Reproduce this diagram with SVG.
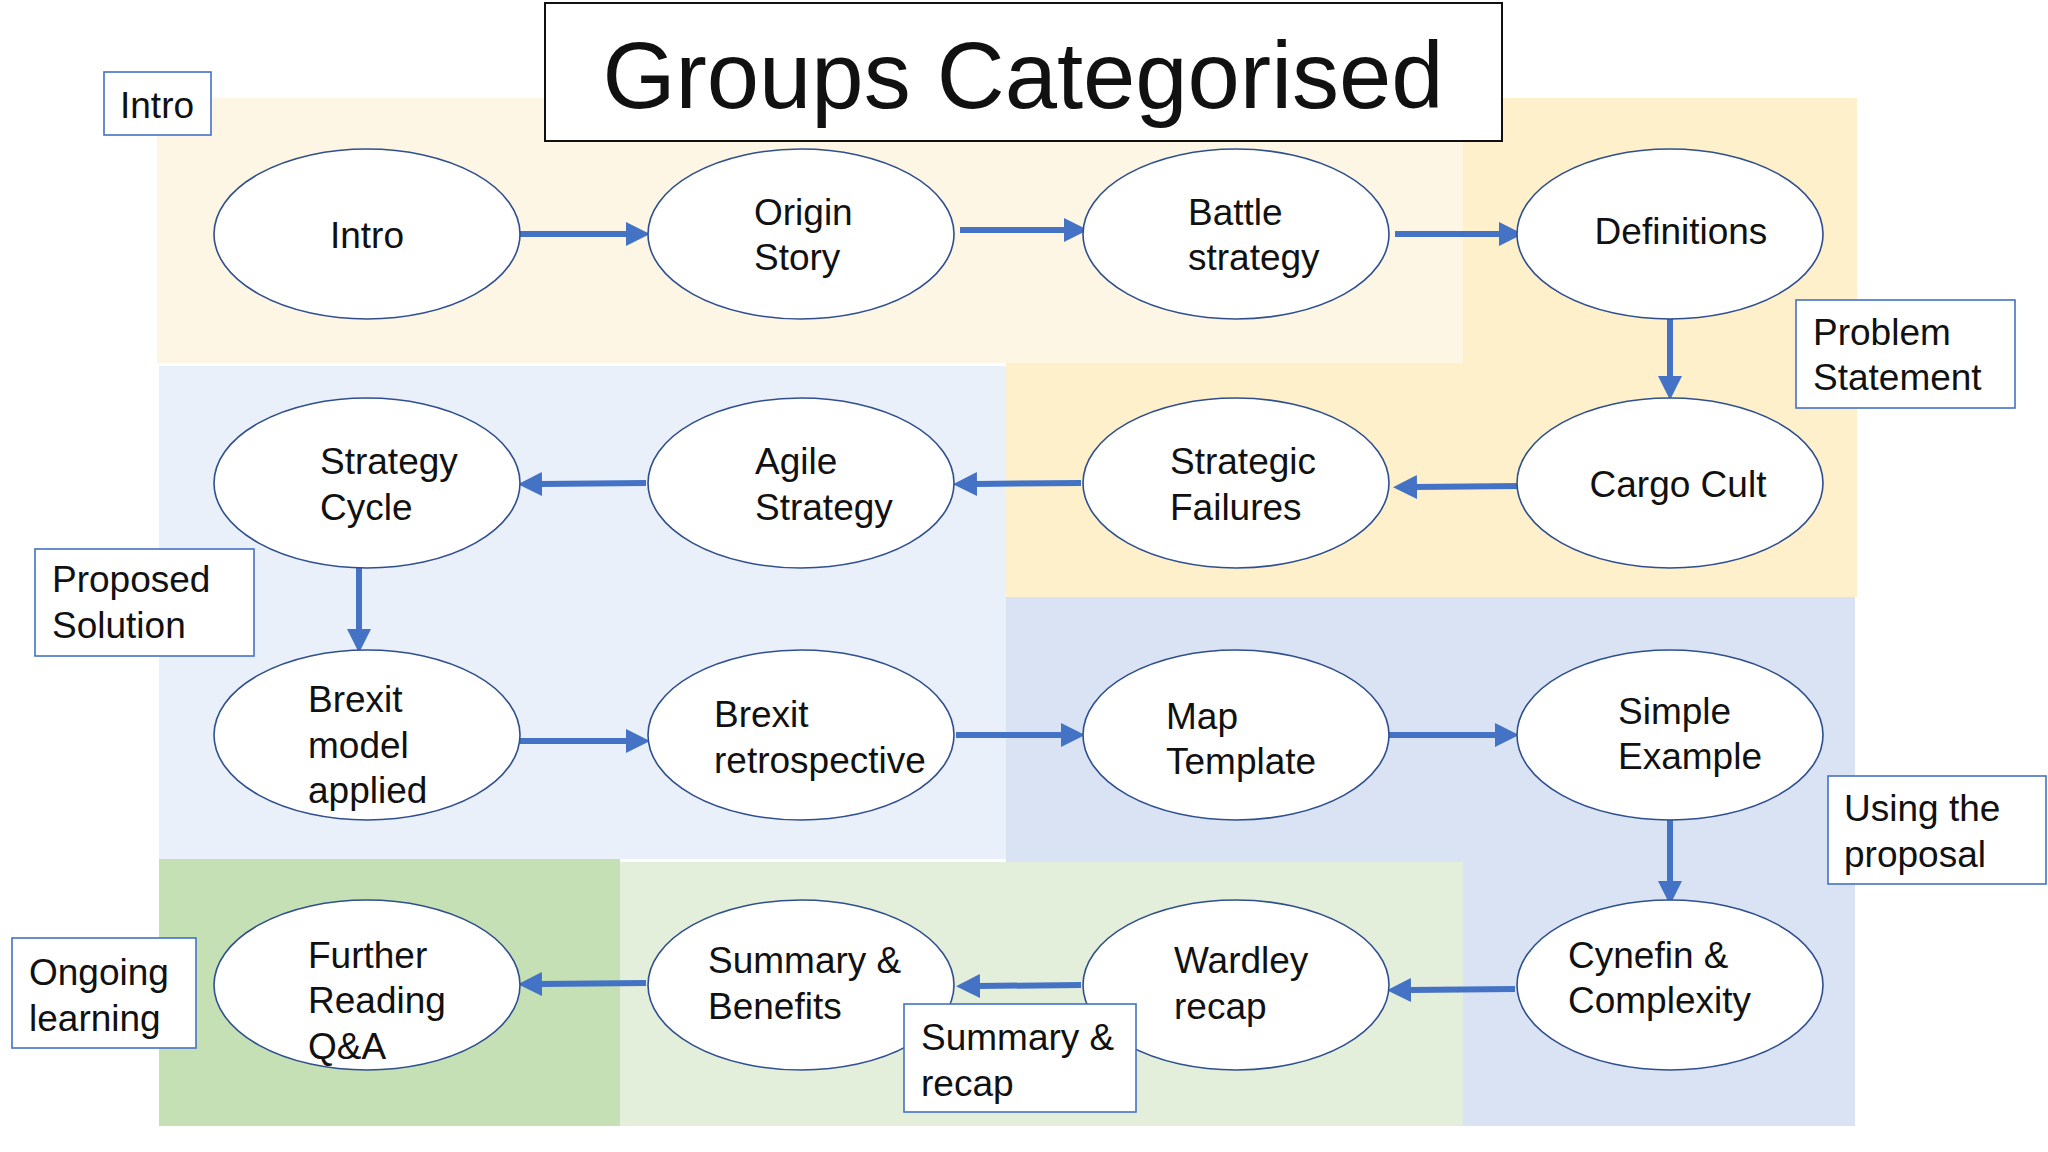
<svg xmlns="http://www.w3.org/2000/svg" width="2048" height="1152" viewBox="0 0 2048 1152">
<style>
.n{fill:#fff;stroke:#2f4f8f;stroke-width:1.6}
.t{font-family:"Liberation Sans",Arial,sans-serif;font-size:37px;fill:#111}
.c{text-anchor:middle}
.b{fill:#fff;stroke:#4472c4;stroke-width:1.6}
.a{stroke:#4472c4;stroke-width:6;fill:none;marker-end:url(#ah)}
</style>
<defs><marker id="ah" markerUnits="userSpaceOnUse" markerWidth="24" markerHeight="24" refX="2" refY="12" orient="auto"><path d="M0,0 L24,12 L0,24 z" fill="#4472c4"/></marker></defs>
<rect width="2048" height="1152" fill="#fff"/>
<g id="regions">
<rect x="157" y="98" width="1306" height="265" fill="#fdf6e4"/>
<polygon points="1463,98 1857,98 1857,597 1006,597 1006,363 1463,363" fill="#fdf0cb"/>
<rect x="159" y="366" width="847" height="493" fill="#eaf0fa"/>
<polygon points="1006,597 1855,597 1855,1126 1463,1126 1463,862 1006,862" fill="#dae3f3"/>
<rect x="620" y="862" width="843" height="264" fill="#e3eedb"/>
<rect x="159" y="859" width="461" height="267" fill="#c5e0b4"/>
</g>
<g id="title"><rect x="545" y="3" width="957" height="138" fill="#fff" stroke="#111" stroke-width="2"/><text x="1023" y="108" class="t c" style="font-size:94px">Groups Categorised</text></g>
<g id="connectors">
<line class="a" x1="520" y1="234" x2="628" y2="234"/>
<line class="a" x1="960" y1="230" x2="1066" y2="230"/>
<line class="a" x1="1395" y1="234" x2="1501" y2="234"/>
<line class="a" x1="1670" y1="317" x2="1670" y2="378"/>
<line class="a" x1="646" y1="483" x2="540" y2="484"/>
<line class="a" x1="1081" y1="483" x2="975" y2="484"/>
<line class="a" x1="1521" y1="486" x2="1415" y2="487"/>
<line class="a" x1="359" y1="568" x2="359" y2="631"/>
<line class="a" x1="520" y1="741" x2="628" y2="741"/>
<line class="a" x1="956" y1="735" x2="1063" y2="735"/>
<line class="a" x1="1389" y1="735" x2="1497" y2="735"/>
<line class="a" x1="1670" y1="820" x2="1670" y2="883"/>
<line class="a" x1="1515" y1="989" x2="1409" y2="990"/>
<line class="a" x1="1081" y1="985" x2="978" y2="986"/>
<line class="a" x1="646" y1="983" x2="540" y2="984"/>
</g>
<g id="intro"><ellipse class="n" cx="367" cy="234" rx="153" ry="85"/><text class="t c" x="367" y="248">Intro</text></g>
<g id="origin"><ellipse class="n" cx="801" cy="234" rx="153" ry="85"/><text class="t" x="754" y="225">Origin</text><text class="t" x="754" y="270">Story</text></g>
<g id="battle"><ellipse class="n" cx="1236" cy="234" rx="153" ry="85"/><text class="t" x="1188" y="225">Battle</text><text class="t" x="1188" y="270">strategy</text></g>
<g id="definitions"><ellipse class="n" cx="1670" cy="234" rx="153" ry="85"/><text class="t c" x="1681" y="244">Definitions</text></g>
<g id="strategycycle"><ellipse class="n" cx="367" cy="483" rx="153" ry="85"/><text class="t" x="320" y="474">Strategy</text><text class="t" x="320" y="520">Cycle</text></g>
<g id="agile"><ellipse class="n" cx="801" cy="483" rx="153" ry="85"/><text class="t" x="755" y="474">Agile</text><text class="t" x="755" y="520">Strategy</text></g>
<g id="failures"><ellipse class="n" cx="1236" cy="483" rx="153" ry="85"/><text class="t" x="1170" y="474">Strategic</text><text class="t" x="1170" y="520">Failures</text></g>
<g id="cargo"><ellipse class="n" cx="1670" cy="483" rx="153" ry="85"/><text class="t c" x="1678" y="497">Cargo Cult</text></g>
<g id="brexitmodel"><ellipse class="n" cx="367" cy="735" rx="153" ry="85"/><text class="t" x="308" y="712">Brexit</text><text class="t" x="308" y="758">model</text><text class="t" x="308" y="803">applied</text></g>
<g id="brexitretro"><ellipse class="n" cx="801" cy="735" rx="153" ry="85"/><text class="t" x="714" y="727">Brexit</text><text class="t" x="714" y="773">retrospective</text></g>
<g id="map"><ellipse class="n" cx="1236" cy="735" rx="153" ry="85"/><text class="t" x="1166" y="729">Map</text><text class="t" x="1166" y="774">Template</text></g>
<g id="simple"><ellipse class="n" cx="1670" cy="735" rx="153" ry="85"/><text class="t" x="1618" y="724">Simple</text><text class="t" x="1618" y="769">Example</text></g>
<g id="cynefin"><ellipse class="n" cx="1670" cy="985" rx="153" ry="85"/><text class="t" x="1568" y="968">Cynefin &amp;</text><text class="t" x="1568" y="1013">Complexity</text></g>
<g id="wardley"><ellipse class="n" cx="1236" cy="985" rx="153" ry="85"/><text class="t" x="1174" y="973">Wardley</text><text class="t" x="1174" y="1019">recap</text></g>
<g id="summary"><ellipse class="n" cx="801" cy="985" rx="153" ry="85"/><text class="t" x="708" y="973">Summary &amp;</text><text class="t" x="708" y="1019">Benefits</text></g>
<g id="further"><ellipse class="n" cx="367" cy="985" rx="153" ry="85"/><text class="t" x="308" y="968">Further</text><text class="t" x="308" y="1013">Reading</text><text class="t" x="308" y="1059">Q&amp;A</text></g>
<g id="lbl-intro"><rect class="b" x="104" y="72" width="107" height="63"/><text class="t" x="120" y="118">Intro</text></g>
<g id="lbl-problem"><rect class="b" x="1796" y="300" width="219" height="108"/><text class="t" x="1813" y="345">Problem</text><text class="t" x="1813" y="390">Statement</text></g>
<g id="lbl-proposed"><rect class="b" x="35" y="549" width="219" height="107"/><text class="t" x="52" y="592">Proposed</text><text class="t" x="52" y="638">Solution</text></g>
<g id="lbl-using"><rect class="b" x="1828" y="776" width="218" height="108"/><text class="t" x="1844" y="821">Using the</text><text class="t" x="1844" y="867">proposal</text></g>
<g id="lbl-ongoing"><rect class="b" x="12" y="938" width="184" height="110"/><text class="t" x="29" y="985">Ongoing</text><text class="t" x="29" y="1031">learning</text></g>
<g id="lbl-summary"><rect class="b" x="904" y="1004" width="232" height="108"/><text class="t" x="921" y="1050">Summary &amp;</text><text class="t" x="921" y="1096">recap</text></g>
</svg>
